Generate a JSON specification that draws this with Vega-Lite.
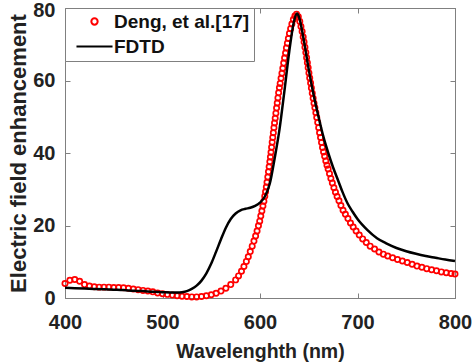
{
  "$schema": "https://vega.github.io/schema/vega-lite/v6.json",
  "width": 390,
  "height": 290,
  "autosize": "none",
  "padding": {"left": 65, "top": 8, "right": 19, "bottom": 66},
  "background": "white",
  "config": {
    "font": "Liberation Sans",
    "view": {"stroke": "#808080", "strokeWidth": 1},
    "axis": {
      "grid": false,
      "labelFlush": false,
      "domainColor": "#808080",
      "tickColor": "#808080",
      "tickSize": -5,
      "labelFont": "Liberation Sans",
      "labelFontSize": 20,
      "labelFontWeight": "bold",
      "labelColor": "#222222",
      "titleFont": "Liberation Sans",
      "titleFontWeight": "bold",
      "titleColor": "#222222"
    }
  },
  "datasets": {
    "deng": [
      {"wl": 400, "v": 4.0}, {"wl": 405, "v": 4.9}, {"wl": 410, "v": 5.1}, {"wl": 415, "v": 4.6},
      {"wl": 420, "v": 3.7}, {"wl": 425, "v": 3.3}, {"wl": 430, "v": 3.1}, {"wl": 435, "v": 3.0},
      {"wl": 440, "v": 3.0}, {"wl": 445, "v": 3.0}, {"wl": 450, "v": 2.9}, {"wl": 455, "v": 2.9},
      {"wl": 460, "v": 2.8}, {"wl": 465, "v": 2.7}, {"wl": 470, "v": 2.5}, {"wl": 475, "v": 2.3},
      {"wl": 480, "v": 2.1}, {"wl": 485, "v": 1.9}, {"wl": 490, "v": 1.7}, {"wl": 495, "v": 1.4},
      {"wl": 500, "v": 1.2}, {"wl": 505, "v": 1.0}, {"wl": 510, "v": 0.8}, {"wl": 515, "v": 0.6},
      {"wl": 520, "v": 0.5}, {"wl": 525, "v": 0.4}, {"wl": 530, "v": 0.3}, {"wl": 535, "v": 0.3},
      {"wl": 540, "v": 0.4}, {"wl": 545, "v": 0.6}, {"wl": 550, "v": 0.9}, {"wl": 555, "v": 1.3},
      {"wl": 560, "v": 1.9}, {"wl": 565, "v": 2.7}, {"wl": 570, "v": 3.7}, {"wl": 575, "v": 5.0},
      {"wl": 578, "v": 6.1}, {"wl": 581, "v": 7.4}, {"wl": 583.5, "v": 8.7}, {"wl": 586, "v": 10.1},
      {"wl": 588, "v": 11.4}, {"wl": 590, "v": 12.8}, {"wl": 592, "v": 14.3}, {"wl": 593.8, "v": 15.7},
      {"wl": 595.5, "v": 17.1}, {"wl": 597, "v": 18.5}, {"wl": 598.4, "v": 19.9}, {"wl": 599.7, "v": 21.2},
      {"wl": 600.8, "v": 22.6}, {"wl": 601.9, "v": 24.0}, {"wl": 603, "v": 25.4}, {"wl": 604, "v": 26.7},
      {"wl": 604.9, "v": 28.1}, {"wl": 605.7, "v": 29.3}, {"wl": 606.5, "v": 30.6}, {"wl": 607.2, "v": 31.9},
      {"wl": 608, "v": 33.4}, {"wl": 608.7, "v": 34.8}, {"wl": 609.4, "v": 36.2}, {"wl": 610.1, "v": 37.6},
      {"wl": 610.7, "v": 38.9}, {"wl": 611.3, "v": 40.2}, {"wl": 611.9, "v": 41.6}, {"wl": 612.5, "v": 43.0},
      {"wl": 613.1, "v": 44.3}, {"wl": 613.7, "v": 45.6}, {"wl": 614.3, "v": 47.0}, {"wl": 614.9, "v": 48.3},
      {"wl": 615.6, "v": 49.6}, {"wl": 616.3, "v": 51.0}, {"wl": 617, "v": 52.4}, {"wl": 617.7, "v": 53.8},
      {"wl": 618.4, "v": 55.2}, {"wl": 619.1, "v": 56.6}, {"wl": 619.9, "v": 58.0}, {"wl": 620.7, "v": 59.2},
      {"wl": 621.6, "v": 60.6}, {"wl": 622.5, "v": 62.0}, {"wl": 623.4, "v": 63.4}, {"wl": 624.3, "v": 64.8},
      {"wl": 625.2, "v": 66.2}, {"wl": 626.2, "v": 67.6}, {"wl": 627.1, "v": 69.0}, {"wl": 628.1, "v": 70.3},
      {"wl": 629.1, "v": 71.6}, {"wl": 630.2, "v": 73.0}, {"wl": 631.4, "v": 74.3}, {"wl": 632.7, "v": 75.6},
      {"wl": 634.2, "v": 76.8}, {"wl": 635.8, "v": 77.8}, {"wl": 637.5, "v": 78.3}, {"wl": 639.3, "v": 77.6},
      {"wl": 640.8, "v": 76.3}, {"wl": 642, "v": 74.9}, {"wl": 643.2, "v": 73.5}, {"wl": 644.3, "v": 72.0},
      {"wl": 645.2, "v": 70.6}, {"wl": 646.1, "v": 69.2}, {"wl": 647, "v": 67.7}, {"wl": 647.8, "v": 66.3},
      {"wl": 648.6, "v": 64.9}, {"wl": 649.4, "v": 63.5}, {"wl": 650.2, "v": 62.1}, {"wl": 651, "v": 60.7},
      {"wl": 651.9, "v": 59.3}, {"wl": 652.7, "v": 57.9}, {"wl": 653.6, "v": 56.5}, {"wl": 654.5, "v": 55.1},
      {"wl": 655.4, "v": 53.7}, {"wl": 656.3, "v": 52.5}, {"wl": 657.3, "v": 51.1}, {"wl": 658.2, "v": 49.8},
      {"wl": 659.2, "v": 48.4}, {"wl": 660.2, "v": 47.0}, {"wl": 661.1, "v": 45.6}, {"wl": 662.1, "v": 44.3},
      {"wl": 663.1, "v": 42.9}, {"wl": 664.1, "v": 41.5}, {"wl": 665.2, "v": 40.3}, {"wl": 666.3, "v": 39.1},
      {"wl": 667.5, "v": 37.8}, {"wl": 668.7, "v": 36.6}, {"wl": 669.9, "v": 35.6}, {"wl": 671.3, "v": 34.3},
      {"wl": 672.7, "v": 33.0}, {"wl": 674.2, "v": 31.7}, {"wl": 675.8, "v": 30.4}, {"wl": 677.4, "v": 29.2},
      {"wl": 679.1, "v": 28.0}, {"wl": 681, "v": 26.8}, {"wl": 683, "v": 25.5}, {"wl": 685.2, "v": 24.2},
      {"wl": 687.6, "v": 23.1}, {"wl": 690.2, "v": 21.9}, {"wl": 692.8, "v": 20.7}, {"wl": 695.6, "v": 19.6},
      {"wl": 698.6, "v": 18.5}, {"wl": 701.8, "v": 17.4}, {"wl": 705.3, "v": 16.3}, {"wl": 709, "v": 15.3},
      {"wl": 713, "v": 14.3}, {"wl": 717.5, "v": 13.5}, {"wl": 722, "v": 12.7}, {"wl": 726.5, "v": 12.1},
      {"wl": 731, "v": 11.6}, {"wl": 736, "v": 11.1}, {"wl": 741, "v": 10.6}, {"wl": 746, "v": 10.2},
      {"wl": 751, "v": 9.8}, {"wl": 756, "v": 9.3}, {"wl": 761, "v": 8.8}, {"wl": 766, "v": 8.5},
      {"wl": 771, "v": 8.1}, {"wl": 776, "v": 7.8}, {"wl": 781, "v": 7.5}, {"wl": 786, "v": 7.2},
      {"wl": 791, "v": 6.95}, {"wl": 796, "v": 6.75}, {"wl": 800, "v": 6.6}
    ],
    "fdtd": [
      {"wl": 400, "v": 2.8}, {"wl": 410, "v": 2.7}, {"wl": 420, "v": 2.6}, {"wl": 430, "v": 2.5},
      {"wl": 440, "v": 2.4}, {"wl": 450, "v": 2.3}, {"wl": 460, "v": 2.2}, {"wl": 470, "v": 2.0},
      {"wl": 480, "v": 1.9}, {"wl": 490, "v": 1.7}, {"wl": 500, "v": 1.6}, {"wl": 510, "v": 1.5},
      {"wl": 515, "v": 1.5}, {"wl": 520, "v": 1.6}, {"wl": 525, "v": 1.9}, {"wl": 530, "v": 2.5},
      {"wl": 535, "v": 3.4}, {"wl": 540, "v": 4.8}, {"wl": 545, "v": 6.8}, {"wl": 550, "v": 9.5},
      {"wl": 555, "v": 12.8}, {"wl": 560, "v": 16.2}, {"wl": 565, "v": 19.4}, {"wl": 570, "v": 21.8},
      {"wl": 575, "v": 23.3}, {"wl": 580, "v": 24.2}, {"wl": 585, "v": 24.6}, {"wl": 590, "v": 24.9},
      {"wl": 595, "v": 25.4}, {"wl": 600, "v": 26.3}, {"wl": 605, "v": 28.0}, {"wl": 610, "v": 31.5},
      {"wl": 615, "v": 38.5}, {"wl": 620, "v": 46.5}, {"wl": 625, "v": 57.0}, {"wl": 630, "v": 68.0},
      {"wl": 635, "v": 76.5}, {"wl": 638, "v": 78.5}, {"wl": 640, "v": 77.5}, {"wl": 645, "v": 71.0},
      {"wl": 650, "v": 63.0}, {"wl": 655, "v": 56.0}, {"wl": 660, "v": 50.0}, {"wl": 665, "v": 44.5},
      {"wl": 670, "v": 40.0}, {"wl": 675, "v": 36.0}, {"wl": 680, "v": 32.5}, {"wl": 685, "v": 29.0},
      {"wl": 690, "v": 26.0}, {"wl": 695, "v": 23.8}, {"wl": 700, "v": 21.8}, {"wl": 710, "v": 18.8},
      {"wl": 720, "v": 16.5}, {"wl": 730, "v": 15.0}, {"wl": 740, "v": 13.8}, {"wl": 750, "v": 12.9},
      {"wl": 760, "v": 12.2}, {"wl": 770, "v": 11.6}, {"wl": 780, "v": 11.1}, {"wl": 790, "v": 10.6},
      {"wl": 800, "v": 10.2}
    ]
  },
  "layer": [
    {
      "data": {"name": "deng"},
      "transform": [{"calculate": "'Deng, et al.[17]'", "as": "series"}],
      "mark": {"type": "point", "filled": false, "size": 28, "strokeWidth": 1.7, "opacity": 1, "clip": false},
      "encoding": {
        "x": {
          "field": "wl", "type": "quantitative",
          "scale": {"domain": [400, 800], "nice": false, "zero": false},
          "axis": {"orient": "top", "values": [400, 500, 600, 700, 800], "labels": false, "title": null}
        },
        "y": {
          "field": "v", "type": "quantitative",
          "scale": {"domain": [0, 80], "nice": false},
          "axis": {"orient": "right", "values": [0, 20, 40, 60, 80], "labels": false, "title": null}
        },
        "color": {
          "field": "series", "type": "nominal",
          "scale": {"domain": ["Deng, et al.[17]", "FDTD"], "range": ["#ff0000", "#000000"]},
          "legend": {
            "title": null,
            "orient": "none",
            "legendX": 0,
            "legendY": 0,
            "padding": 4,
            "strokeColor": "#808080",
            "fillColor": "white",
            "cornerRadius": 0,
            "labelFont": "Liberation Sans",
            "labelFontSize": 19,
            "labelFontWeight": "bold",
            "labelColor": "#111111",
            "symbolSize": 40,
            "symbolStrokeWidth": 2,
            "symbolFillColor": "transparent",
            "symbolOffset": 16,
            "labelOffset": 10,
            "rowPadding": 5
          }
        },
        "shape": {
          "field": "series", "type": "nominal",
          "scale": {"domain": ["Deng, et al.[17]", "FDTD"], "range": ["circle", "M-5.7,0H5.7"]}
        }
      }
    },
    {
      "data": {"name": "fdtd"},
      "transform": [{"calculate": "'FDTD'", "as": "series"}],
      "mark": {"type": "line", "strokeWidth": 2.5, "interpolate": "monotone"},
      "encoding": {
        "x": {
          "field": "wl", "type": "quantitative",
          "axis": {"orient": "bottom", "values": [400, 500, 600, 700, 800], "title": "Wavelenghth (nm)", "titleFontSize": 19.5, "labelPadding": 19, "titleY": 59, "titleBaseline": "alphabetic"}
        },
        "y": {
          "field": "v", "type": "quantitative",
          "axis": {"orient": "left", "values": [0, 20, 40, 60, 80], "title": "Electric field enhancement", "titleFontSize": 22, "labelPadding": 15, "labelOffset": {"condition": {"test": "datum.value == 80", "value": 2.5}, "value": 0}, "titleX": -40, "titleBaseline": "alphabetic"}
        },
        "color": {"field": "series", "type": "nominal"}
      }
    }
  ]
}
